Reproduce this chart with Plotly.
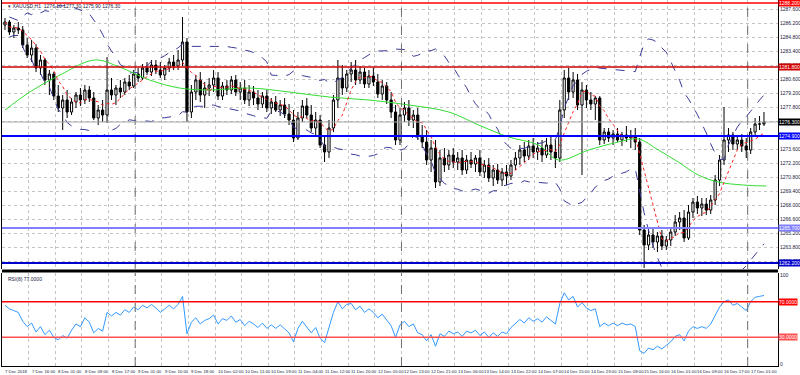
import pandas as pd
import plotly.graph_objects as go

# ---------------- data ----------------
opens = [1286.0,1286.3,1285.3,1285.7,1285.5,1284.0,1283.0,1283.7,1281.7,1282.5,
         1280.5,1281.1,1278.9,1277.7,1278.5,1277.3,1278.3,1279.0,1278.5,1279.5,
         1278.7,1276.7,1277.5,1277.0,1279.5,1279.0,1279.7,1279.3,1280.3,1279.9,
         1281.1,1280.7,1281.7,1281.3,1282.0,1281.5,1281.0,1281.7,1282.3,1281.9,
         1282.5,1284.3,1277.3,1279.3,1280.5,1279.0,1279.7,1280.0,1280.7,1278.9,
         1279.9,1279.5,1280.5,1279.3,1279.7,1278.5,1279.3,1278.7,1278.1,1278.9,
         1277.7,1278.3,1277.5,1278.0,1277.1,1276.5,1274.7,1276.7,1277.9,1277.0,
         1275.7,1276.5,1274.0,1273.3,1275.7,1278.5,1280.7,1279.7,1281.1,1281.5,
         1280.5,1281.3,1280.1,1280.9,1280.3,1279.1,1279.9,1278.5,1277.3,1274.5,
         1277.0,1277.7,1276.5,1277.0,1274.9,1274.3,1272.5,1273.7,1270.3,1272.7,
         1272.0,1273.0,1272.3,1272.7,1271.5,1272.5,1272.1,1272.7,1271.3,1272.0,
         1270.7,1271.5,1270.5,1271.3,1270.9,1272.0,1272.7,1273.5,1272.9,1273.9,
         1273.3,1273.7,1273.0,1274.0,1273.3,1272.7,1277.5,1280.7,1279.3,1280.5,
         1278.0,1279.5,1278.5,1278.1,1278.7,1274.5,1275.3,1274.7,1275.1,1274.5,
         1275.0,1274.7,1274.9,1274.3,1265.5,1264.0,1265.0,1264.3,1264.9,1263.9,
         1264.5,1265.3,1266.3,1266.7,1264.7,1267.3,1268.3,1267.7,1268.1,1267.5,
         1268.5,1270.5,1272.5,1274.5,1275.0,1274.1,1274.5,1273.9,1273.5,1275.3,
         1276.1,1276.1]
highs = [1286.7,1286.5,1286.0,1286.3,1285.9,1284.7,1284.5,1284.1,1283.0,1282.7,
         1281.5,1281.3,1280.0,1279.0,1279.5,1278.7,1279.3,1279.7,1280.0,1279.9,
         1279.3,1278.0,1278.5,1282.8,1280.7,1280.0,1280.5,1280.7,1281.0,1281.5,
         1281.7,1282.1,1282.3,1282.5,1282.5,1282.3,1282.0,1282.7,1283.0,1283.5,
         1286.8,1284.7,1280.0,1281.0,1281.3,1280.3,1280.7,1281.5,1281.3,1280.3,
         1280.5,1280.9,1281.0,1280.3,1280.5,1280.0,1279.9,1279.5,1279.3,1279.5,
         1278.7,1278.9,1278.5,1278.7,1278.1,1277.5,1277.3,1278.5,1278.7,1278.0,
         1277.3,1277.0,1275.0,1276.5,1279.0,1282.5,1282.0,1281.5,1282.3,1282.5,
         1281.9,1281.7,1281.5,1281.7,1281.1,1280.5,1280.3,1279.3,1278.0,1277.7,
         1278.3,1278.5,1277.5,1277.7,1276.0,1275.5,1274.5,1274.5,1273.5,1273.7,
         1273.5,1273.7,1273.3,1273.5,1273.0,1273.3,1273.0,1273.5,1272.5,1272.7,
         1272.0,1272.1,1271.7,1272.0,1272.5,1273.3,1274.0,1274.3,1274.5,1274.7,
         1274.3,1274.5,1274.7,1274.9,1274.5,1278.5,1281.5,1281.7,1281.3,1281.1,
         1280.3,1280.0,1279.3,1278.9,1278.9,1275.7,1275.7,1275.5,1275.7,1275.3,
         1275.9,1275.5,1275.7,1274.7,1266.0,1265.7,1265.7,1265.3,1265.5,1264.9,
         1265.7,1267.0,1267.3,1267.5,1268.0,1268.7,1268.9,1268.7,1268.7,1269.0,
         1271.0,1273.0,1277.8,1275.7,1275.3,1274.9,1275.1,1274.7,1275.7,1276.7,
         1276.9,1277.3]
lows = [1285.5,1285.0,1284.7,1285.1,1283.7,1282.7,1282.3,1281.3,1281.0,1280.0,
        1279.0,1278.5,1277.3,1275.5,1276.7,1277.0,1277.7,1277.9,1278.1,1278.3,
        1276.5,1276.0,1276.3,1276.2,1278.5,1278.0,1278.7,1279.0,1279.5,1279.7,
        1280.3,1280.5,1281.0,1280.9,1281.1,1280.7,1280.5,1281.3,1281.5,1281.5,
        1281.9,1276.3,1276.7,1278.5,1278.3,1277.7,1278.9,1279.3,1278.5,1278.5,
        1279.0,1279.1,1278.9,1278.5,1278.1,1277.9,1278.0,1277.5,1277.7,1277.3,
        1277.1,1277.3,1276.9,1276.7,1276.0,1274.3,1274.5,1276.3,1276.7,1275.3,
        1275.0,1273.7,1272.3,1272.7,1275.3,1277.7,1279.0,1279.3,1280.3,1280.0,
        1280.1,1279.7,1279.7,1279.9,1278.7,1278.5,1278.1,1276.7,1274.0,1274.0,
        1276.3,1275.9,1275.7,1274.5,1273.7,1272.0,1271.3,1269.7,1269.9,1271.3,
        1271.5,1271.7,1271.5,1271.0,1271.1,1271.7,1271.3,1270.9,1270.7,1270.3,
        1269.9,1270.1,1269.9,1270.0,1270.5,1271.5,1272.0,1272.3,1272.5,1272.7,
        1272.5,1272.3,1272.7,1272.5,1271.7,1272.3,1276.7,1278.5,1278.7,1277.5,
        1271.0,1277.7,1277.5,1276.5,1274.0,1274.1,1274.3,1274.0,1274.3,1273.9,
        1274.3,1273.7,1273.5,1265.0,1261.7,1263.5,1263.7,1263.3,1263.5,1263.5,
        1263.9,1264.9,1265.5,1264.3,1264.5,1266.7,1267.1,1266.9,1267.0,1267.1,
        1268.0,1269.9,1272.0,1273.3,1273.5,1273.5,1273.3,1272.7,1273.1,1274.9,
        1275.5,1275.9]
closes = [1286.3,1285.3,1285.7,1285.5,1284.0,1283.0,1283.7,1281.7,1282.5,1280.5,
          1281.1,1278.9,1277.7,1278.5,1277.3,1278.3,1279.0,1278.5,1279.5,1278.7,
          1276.7,1277.5,1277.0,1279.5,1279.0,1279.7,1279.3,1280.3,1279.9,1281.1,
          1280.7,1281.7,1281.3,1282.0,1281.5,1281.0,1281.7,1282.3,1281.9,1282.5,
          1284.3,1277.3,1279.3,1280.5,1279.0,1279.7,1280.0,1280.7,1278.9,1279.9,
          1279.5,1280.5,1279.3,1279.7,1278.5,1279.3,1278.7,1278.1,1278.9,1277.7,
          1278.3,1277.5,1278.0,1277.1,1276.5,1274.7,1276.7,1277.9,1277.0,1275.7,
          1276.5,1274.0,1273.3,1275.7,1278.5,1280.7,1279.7,1281.1,1281.5,1280.5,
          1281.3,1280.1,1280.9,1280.3,1279.1,1279.9,1278.5,1277.3,1274.5,1277.0,
          1277.7,1276.5,1277.0,1274.9,1274.3,1272.5,1273.7,1270.3,1272.7,1272.0,
          1273.0,1272.3,1272.7,1271.5,1272.5,1272.1,1272.7,1271.3,1272.0,1270.7,
          1271.5,1270.5,1271.3,1270.9,1272.0,1272.7,1273.5,1272.9,1273.9,1273.3,
          1273.7,1273.0,1274.0,1273.3,1272.7,1277.5,1280.7,1279.3,1280.5,1278.0,
          1279.5,1278.5,1278.1,1278.7,1274.5,1275.3,1274.7,1275.1,1274.5,1275.0,
          1274.7,1274.9,1274.3,1265.5,1264.0,1265.0,1264.3,1264.9,1263.9,1264.5,
          1265.3,1266.3,1266.7,1264.7,1267.3,1268.3,1267.7,1268.1,1267.5,1268.5,
          1270.5,1272.5,1274.5,1275.0,1274.1,1274.5,1273.9,1273.5,1275.3,1276.1,
          1276.1,1276.3]

# RSI values per bar
rsi_vals = [66,62,60,58,48,42,46,36,42,33, 38,30,27,32,29,38,45,42,52,47,
            35,40,37,58,54,58,55,61,58,64, 61,66,63,67,63,58,62,66,62,67,
            76,34,47,52,45,49,51,55,45,51, 49,54,47,50,43,48,45,41,46,40,
            44,40,44,39,35,25,40,48,42,35, 41,29,24,42,58,70,62,67,68,61,
            65,58,62,58,52,56,49,43,30,44, 48,42,45,35,33,26,33,20,34,31,
            37,34,36,31,37,35,38,32,36,30, 35,31,36,34,41,45,50,46,52,48,
            51,47,53,49,45,68,80,72,76,64, 69,63,60,62,42,46,43,46,43,46,
            44,45,42,15,12,18,16,20,17,21, 25,31,33,26,37,42,40,42,40,45,
            55,64,70,72,66,68,64,60,70,75, 76,77]

# slow moving average (green), read as a smooth curve: bar index -> price
green_idx = [0, 5.6, 12.4, 20.2, 25.8, 32.6, 39.3, 46.1, 55.1, 64, 73, 82, 91, 100,
             106.7, 113.5, 120.2, 124.7, 131.5, 138.2, 142.7, 147.2, 151.7, 156.2,
             160.7, 166.3, 171.5]
green_val = [1277.5, 1279.3, 1281.0, 1282.5, 1281.8, 1280.5, 1279.7, 1279.5, 1279.7,
             1279.3, 1278.8, 1278.5, 1278.0, 1277.3, 1276.0, 1274.8, 1274.0, 1272.5,
             1273.5, 1274.3, 1274.6, 1273.5, 1272.3, 1271.0, 1270.3, 1270.0, 1269.9]

# horizontal levels drawn on the price chart
level_prices = [1288.2, 1281.8, 1274.9, 1265.7, 1262.2]
level_colors = ["#ff0000", "#d00000", "#0000ff", "#8080ff", "#0000cd"]
rsi_levels = [70, 30]

tick_labels = ["7 Dec 2018", "7 Dec 16:00", "8 Dec 01:00", "8 Dec 09:00", "8 Dec 17:00",
               "9 Dec 01:00", "9 Dec 10:00", "9 Dec 18:00", "10 Dec 02:00", "10 Dec 11:00",
               "10 Dec 19:00", "11 Dec 04:00", "11 Dec 12:00", "11 Dec 20:00", "12 Dec 05:00",
               "12 Dec 13:00", "12 Dec 21:00", "13 Dec 06:00", "13 Dec 14:00", "13 Dec 22:00",
               "14 Dec 07:00", "14 Dec 15:00", "14 Dec 23:00", "15 Dec 08:00", "15 Dec 16:00",
               "16 Dec 01:00", "16 Dec 09:00", "16 Dec 17:00", "17 Dec 01:00"]
symbol = "XAUUSD,H1"

# ---------------- derived indicators ----------------
N = len(closes)
xs = list(range(N))
cl = pd.Series(closes)
red_ma = cl.rolling(6, min_periods=1).mean()
mid = cl.rolling(20, min_periods=2).mean()
sd = cl.rolling(20, min_periods=2).std(ddof=0)
bb_up = mid + 2 * sd
bb_lo = mid - 2 * sd

BARS_PER_GRID = 6
grid_x = [BARS_PER_GRID * k - 0.67 for k in range(len(tick_labels))]
x_range = [-0.67, 174.16]
FONT = "Liberation Sans, Arial"
TXT = "#202040"

fig = go.Figure()
fig.add_trace(go.Candlestick(
    x=xs, open=opens, high=highs, low=lows, close=closes,
    increasing=dict(line=dict(color="black", width=1), fillcolor="white"),
    decreasing=dict(line=dict(color="black", width=1), fillcolor="black"),
    whiskerwidth=0, xaxis="x", yaxis="y", hoverinfo="skip"))
fig.add_trace(go.Scatter(x=xs, y=bb_up, mode="lines",
                         line=dict(color="#3a3a9a", width=1, dash="dash"), xaxis="x", yaxis="y"))
fig.add_trace(go.Scatter(x=xs, y=bb_lo, mode="lines",
                         line=dict(color="#3a3a9a", width=1, dash="dash"), xaxis="x", yaxis="y"))
fig.add_trace(go.Scatter(x=green_idx, y=green_val, mode="lines",
                         line=dict(color="#33dd33", width=1, shape="spline"), xaxis="x", yaxis="y"))
fig.add_trace(go.Scatter(x=xs, y=red_ma, mode="lines",
                         line=dict(color="#ff2020", width=1, dash="dot"), xaxis="x", yaxis="y"))
fig.add_trace(go.Scatter(x=xs, y=rsi_vals, mode="lines",
                         line=dict(color="#3399ff", width=1), xaxis="x2", yaxis="y2"))

y_ticks = [round(1287.6 - 1.4 * k, 1) for k in range(19)]
grid_col = "#c4c4c4"
fig.update_layout(
    width=800, height=375, margin=dict(l=2, r=22, t=0, b=9, autoexpand=False),
    paper_bgcolor="white", plot_bgcolor="white", showlegend=False,
    font=dict(family=FONT, size=5, color=TXT),
    xaxis=dict(domain=[0, 1], range=x_range, anchor="y", rangeslider=dict(visible=False),
               showticklabels=False, tickvals=grid_x, ticks="", showgrid=True, automargin=False,
               gridcolor=grid_col, griddash="dot", gridwidth=1, zeroline=False, showline=False),
    yaxis=dict(domain=[0.265, 1], range=[1261.6, 1288.5], side="right", automargin=False,
               tickvals=y_ticks, ticktext=[f"{v:.3f}" for v in y_ticks], ticks="",
               tickfont=dict(size=5, color=TXT), showgrid=True, gridcolor=grid_col,
               griddash="dot", zeroline=False, showline=True, linecolor="black",
               linewidth=1, mirror=True),
    xaxis2=dict(domain=[0, 1], range=x_range, anchor="y2", matches="x", automargin=False,
                showticklabels=False, tickvals=grid_x, ticks="", showgrid=True,
                gridcolor=grid_col, griddash="dot", zeroline=False, showline=True,
                linecolor="black", linewidth=1),
    yaxis2=dict(domain=[0, 0.254], range=[-2.2, 102.2], side="right", tickvals=[0, 100],
                ticktext=["0", "100"], ticks="", tickfont=dict(size=5, color=TXT),
                automargin=False, showgrid=False, zeroline=False, showline=True,
                linecolor="black", linewidth=1, mirror=True),
)

shapes = []
# darker day separators
for k in [5, 15, 28]:
    for yr in ["y", "y2"]:
        shapes.append(dict(type="line", xref="x", yref=f"{yr} domain", x0=grid_x[k], x1=grid_x[k],
                           y0=0, y1=1, line=dict(color="#707070", width=1, dash="dash")))
# separator between panels
shapes.append(dict(type="line", xref="paper", yref="paper", x0=0, x1=1, y0=0.2596, y1=0.2596,
                   line=dict(color="black", width=3)))
# price levels
for p, c in zip(level_prices, level_colors):
    w = 1.5 if c in ("#ff0000", "#d00000") else 2
    shapes.append(dict(type="line", xref="paper", yref="y", x0=0, x1=1, y0=p, y1=p,
                       line=dict(color=c, width=w)))
# bid line
shapes.append(dict(type="line", xref="paper", yref="y", x0=0, x1=1, y0=closes[-1], y1=closes[-1],
                   line=dict(color="#a8a8a8", width=1)))
for lv, c in zip(rsi_levels, ["#ff0000", "#ff5050"]):
    shapes.append(dict(type="line", xref="paper", yref="y2", x0=0, x1=1, y0=lv, y1=lv,
                       line=dict(color=c, width=1.5)))
fig.update_layout(shapes=shapes)

ann = []
def side_label(y, yref, text, bg):
    ann.append(dict(x=1, xref="paper", y=y, yref=yref, text=text, showarrow=False,
                    xanchor="left", yanchor="middle", xshift=0, bgcolor=bg,
                    font=dict(size=5, color="white", family=FONT), borderpad=0))

for p, c in zip(level_prices, level_colors):
    side_label(p, "y", f"{p:.3f}", c)
side_label(closes[-1], "y", f"{closes[-1]:.3f}", "black")
for lv, c in zip(rsi_levels, ["#ff0000", "#ff5050"]):
    side_label(lv, "y2", f"{lv:.4f}", c)

for lab, gx in zip(tick_labels, grid_x):
    ann.append(dict(x=max(gx, x_range[0]), xref="x2", y=0, yref="paper", text=lab,
                    showarrow=False, xanchor="left", yanchor="top", yshift=-1, xshift=1,
                    font=dict(size=4.3, color=TXT, family=FONT)))

ann.append(dict(x=0, xref="paper", y=1, yref="paper",
                text=f"\u25be {symbol}  {opens[-1]:.2f} {highs[-1]:.2f} {lows[-1]:.2f} {closes[-1]:.2f}",
                showarrow=False, xanchor="left", yanchor="top", xshift=4, yshift=-1,
                font=dict(size=5, color=TXT, family=FONT)))
ann.append(dict(x=0, xref="paper", y=0.254, yref="paper", text=f"RSI(8) {rsi_vals[-1]:.4f}",
                showarrow=False, xanchor="left", yanchor="top", xshift=4, yshift=-1,
                font=dict(size=5, color=TXT, family=FONT)))
fig.update_layout(annotations=ann)

fig.write_html("out.html", config={"displayModeBar": False},
               post_script="document.body.style.margin='0px';document.body.style.overflow='hidden';")
